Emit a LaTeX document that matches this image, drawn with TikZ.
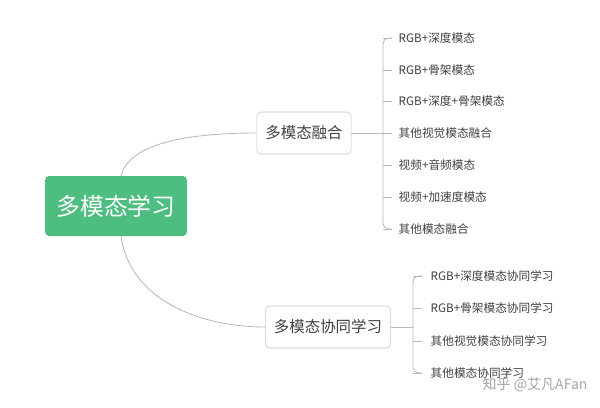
\documentclass[tikz,border=0pt]{standalone}
\usepackage{fontspec}
\setmainfont{Noto Sans CJK SC}
\definecolor{rootgreen}{RGB}{78,190,128}
\begin{document}
\begin{tikzpicture}[
    x=0.025cm, y=-0.025cm,
    root/.style={rectangle, rounded corners=3pt, fill=rootgreen, text=white, minimum width=142*0.025cm, minimum height=60*0.025cm, font=\fontsize{17}{20}\selectfont},
    topic/.style={rectangle, rounded corners=3pt, draw=gray!45, fill=white, minimum height=42*0.025cm, inner xsep=6pt, font=\fontsize{11}{13}\selectfont, text=black!75},
    leaf/.style={anchor=west, inner sep=1pt, font=\fontsize{8.3}{10}\selectfont, text=black!75},
    link/.style={draw=gray!55, line width=0.6pt}
]
\useasboundingbox (0,0) rectangle (600,408);
\fill[white] (0,0) rectangle (600,408);

% Root and main topics
\node[root] (root) at (116,206) {多模态学习};
\node[topic] (fuse) at (304,133) {多模态融合};
\node[topic] (co) at (328,327) {多模态协同学习};

% Curved links from root
\draw[link] (root.north) ++(5,0) .. controls (130,140) and (200,133) .. (fuse.west);
\draw[link] (root.south) ++(5,0) .. controls (130,300) and (200,327) .. (co.west);

% Fusion leaves
\coordinate (fb) at (383,133);
\draw[link] (fuse.east) -- (fb);
\foreach \y/\t [count=\i] in {38/RGB+深度模态, 70/RGB+骨架模态, 101/RGB+深度+骨架模态, 133/其他视觉模态融合, 165/视频+音频模态, 197/视频+加速度模态, 229/其他模态融合}
{
    \node[leaf] (f\i) at (397,\y) {\t};
    \draw[link] (383,\y) -- ++(9,0);
}
\draw[link, rounded corners=4pt] (392,38) -- (383,38) -- (383,229) -- (392,229);

% Co-learning leaves
\coordinate (cb) at (413,327);
\draw[link] (co.east) -- (cb);
\foreach \y/\t [count=\i] in {276/RGB+深度模态协同学习, 308/RGB+骨架模态协同学习, 341/其他视觉模态协同学习, 373/其他模态协同学习}
{
    \node[leaf] (c\i) at (429,\y) {\t};
    \draw[link] (413,\y) -- ++(9,0);
}
\draw[link, rounded corners=4pt] (422,276) -- (413,276) -- (413,373) -- (422,373);

% Watermark
\node[font=\fontsize{10}{12}\selectfont, text=gray!70] (mark) at (535,385) {知乎 @艾凡AFan};
\end{tikzpicture}
\end{document}
